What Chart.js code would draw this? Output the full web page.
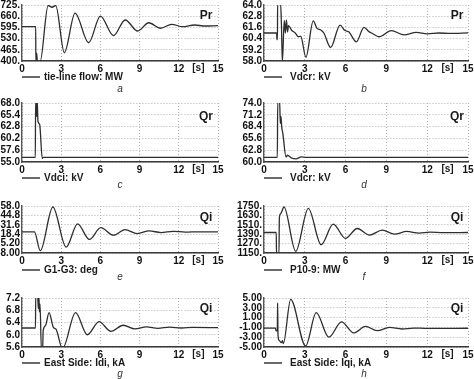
<!DOCTYPE html>
<html><head><meta charset="utf-8">
<script src="https://cdn.jsdelivr.net/npm/chart.js@4"></script>
<style>
html,body{margin:0;padding:0;width:474px;height:379px;overflow:hidden;background:#fff;font-family:"Liberation Sans",Arial,sans-serif;}
.cv{position:absolute;}
.t{position:absolute;white-space:nowrap;color:#1a1a1a;line-height:1;}
.lg{font-weight:bold;font-size:10px;transform:translateY(-50%);}
.ln{position:absolute;height:2px;background:#6a6a6a;}
.cap{font-style:italic;font-size:10px;color:#333;transform:translate(-50%,-50%);}
.tag{font-weight:bold;font-size:12px;transform:translate(-50%,-50%);}
.sec{font-weight:bold;font-size:10px;transform:translate(-50%,0);}
</style></head><body>
<script>
// ---------- data ----------
const xTickVals = [0, 3, 6, 9, 12, 15];
const xTickLabels = ['0', '3', '6', '9', '12', '15'];

// a: tie-line flow (MW)
const timeA = [0,1.05,1.06,1.12,1.18,1.25,1.38,2.0,2.3,2.58,3.24,4.06,5.1,6.0,7.0,7.9,8.85,9.7,10.6,11.45,12.3,13.2,14.0,15];
const valA  = [600,600,395,446,395,395,395,722,712,722,448,678,506,661,547,638,574,622,590,613,599,609,603,605];
const yTicksA = [400,465,530,595,660,725];
const yLabelsA = ['400.','465.','530.','595.','660.','725.'];

// b: Vdcr (kV), Pr
const timeB = [0,0.93,0.95,0.99,1.0,1.22,1.28,1.35,1.49,1.57,1.65,1.73,1.8,2.03,2.3,2.52,2.7,3.08,3.62,3.9,4.15,4.4,4.9,5.59,5.93,6.25,6.79,7.35,7.72,7.97,8.46,9.36,10.3,11.2,12.0,12.87,13.7,15];
const valB  = [61.0,61.0,60.3,60.3,64.2,64.2,62.0,57.9,62.35,61.0,62.4,61.1,61.8,61.3,61.0,60.6,60.65,58.4,62.3,61.5,61.35,61.0,59.45,61.85,61.3,61.1,60.05,61.6,61.15,60.95,60.6,61.25,60.8,61.07,60.9,61.0,60.95,61.02];
const yTicksB = [58,59.2,60.4,61.6,62.8,64];
const yLabelsB = ['58.0','59.2','60.4','61.6','62.8','64.0'];

// c: Vdci (kV), Qr
const timeC = [0,1.02,1.04,1.1,1.13,1.17,1.22,1.35,1.55,1.65,15];
const valC  = [56.0,56.0,68.3,68.3,65.0,68.3,64.0,63.3,55.8,56.0,56.0];
const yTicksC = [55,57.6,60.2,62.8,65.4,68];
const yLabelsC = ['55.0','57.6','60.2','62.8','65.4','68.0'];

// d: Vdcr (kV), Qr
const timeD = [0,0.98,1.01,1.15,1.2,1.25,1.3,1.38,1.62,1.72,2.0,2.35,2.75,3.1,15];
const valD  = [61.1,61.1,74.3,74.3,69.2,70.8,68.4,66.9,61.2,61.6,61.0,60.75,61.2,61.1,61.1];
const yTicksD = [60,62.8,65.6,68.4,71.2,74];
const yLabelsD = ['60.0','62.8','65.6','68.4','71.2','74.0'];

// e: G1-G3 (deg), Qi
const timeE = [0,0.95,1.4,2.36,3.38,4.25,5.16,6.03,7.0,7.88,8.82,9.74,10.65,11.57,12.5,13.5,15];
const valE  = [21.6,21.6,-4.8,56.6,0.2,33.0,11.1,27.5,17.0,24.8,19.3,23.0,20.7,22.5,21.3,21.8,21.6];
const yTicksE = [-8,5.2,18.4,31.6,44.8,58];
const yLabelsE = ['-8.00','5.20','18.4','31.6','44.8','58.0'];

// f: P10-9 (MW), Qi
const timeF = [0,0.9,0.92,1.1,1.13,1.22,1.47,2.33,3.26,4.2,5.09,5.99,6.85,7.76,8.69,9.6,10.5,11.4,12.2,13.2,15];
const valF  = [1412,1412,1140,1140,1600,1650,1737,1171,1720,1256,1518,1336,1463,1378,1442,1391,1425,1404,1416,1410,1412];
const yTicksF = [1150,1270,1390,1510,1630,1750];
const yLabelsF = ['1150.','1270.','1390.','1510.','1630.','1750.'];

// g: East Side Idi (kA), Qi
const timeG = [0,1.03,1.05,1.2,1.25,1.3,1.33,1.38,1.48,1.58,1.62,1.8,2.07,2.4,2.6,3.1,4.1,5.0,5.9,6.8,7.75,8.64,9.53,10.4,11.3,12.2,13.1,15];
const valG  = [6.22,6.22,7.25,7.25,6.85,7.25,6.75,7.0,5.55,5.55,6.13,6.3,6.72,6.24,6.18,5.55,6.72,6.0,6.43,6.11,6.31,6.19,6.26,6.21,6.25,6.22,6.24,6.23];
const yTicksG = [5.6,6.0,6.4,6.8,7.2];
const yLabelsG = ['5.6','6.0','6.4','6.8','7.2'];

// h: East Side Iqi (kA), Qi
const timeH = [0,0.85,0.88,0.98,1.0,1.03,1.1,1.2,1.29,1.36,1.42,1.96,3.06,3.84,4.77,5.7,6.6,7.46,8.32,9.22,10.15,11.0,12.0,15];
const valH  = [-1.15,-1.15,-1.7,-1.7,4.0,-2.5,-3.6,-3.9,-4.1,-3.7,-4.3,4.7,-4.8,2.0,-3.0,0.13,-2.13,-0.8,-1.67,-1.0,-1.33,-1.13,-1.2,-1.17];
const yTicksH = [-5,-3,-1,1,3,5];
const yLabelsH = ['-5.00','-3.00','-1.00','1.00','3.00','5.00'];

const legendTexts = ['tie-line flow: MW','Vdcr: kV','Vdci: kV','Vdcr: kV','G1-G3: deg','P10-9: MW','East Side: Idi, kA','East Side: Iqi, kA'];
const tagTexts = ['Pr','Pr','Qr','Qr','Qi','Qi','Qi','Qi'];
const captionTexts = ['a','b','c','d','e','f','g','h'];
const unitText = '[s]';

// ---------- layout ----------
const cols = [{l:22, r:218, cap:120}, {l:264, r:468, cap:364}];
const rows = [
  {t:4, b:61, lg:77, cap:88.5, tag:15},
  {t:102, b:162, lg:177.5, cap:184.5, tag:115.5},
  {t:205, b:253, lg:270, cap:277, tag:217},
  {t:297, b:347, lg:363, cap:373.5, tag:308}
];
const series = [
  [timeA,valA,yTicksA,yLabelsA],[timeB,valB,yTicksB,yLabelsB],
  [timeC,valC,yTicksC,yLabelsC],[timeD,valD,yTicksD,yLabelsD],
  [timeE,valE,yTicksE,yLabelsE],[timeF,valF,yTicksF,yLabelsF],
  [timeG,valG,yTicksG,yLabelsG],[timeH,valH,yTicksH,yLabelsH]
];

function addText(cls, txt, x, y){
  const d=document.createElement('div'); d.className='t '+cls; d.textContent=txt;
  d.style.left=x+'px'; d.style.top=y+'px'; document.body.appendChild(d); return d;
}

const tickFont = {family:'"Liberation Sans", Arial, sans-serif', size:10, weight:'bold'};
const padTop=7, padRight=10, yW=32, xH=14;

series.forEach((s,k)=>{
  const col=cols[k%2], row=rows[Math.floor(k/2)];
  const [tx,vy,yt,yl]=s;
  const w = yW + (col.r-col.l) + padRight;
  const h = padTop + (row.b-row.t) + xH;
  const c=document.createElement('canvas');
  c.className='cv'; c.width=w; c.height=h;
  c.style.left=(col.l-yW)+'px'; c.style.top=(row.t-padTop)+'px';
  c.style.width=w+'px'; c.style.height=h+'px';
  document.body.appendChild(c);
  const pts=tx.map((x,i)=>({x:x,y:vy[i]}));
  new Chart(c,{
    type:'line',
    data:{datasets:[{data:pts,borderColor:'#2e2e2e',borderWidth:1.3,pointRadius:0,cubicInterpolationMode:'monotone',fill:false}]},
    options:{
      responsive:false, animation:false, events:[],
      layout:{padding:{top:padTop,right:padRight,left:0,bottom:0}},
      plugins:{legend:{display:false},tooltip:{enabled:false}},
      scales:{
        x:{type:'linear',min:0,max:15,
          afterBuildTicks:sc=>{sc.ticks=xTickVals.map(v=>({value:v}));},
          afterFit:sc=>{sc.height=xH;},
          ticks:{callback:(v,i)=>xTickLabels[i],font:tickFont,color:'#111',padding:2,maxRotation:0,autoSkip:false},
          grid:{color:'#b0b0b0',lineWidth:1,drawTicks:false},
          border:{display:true,color:'#3a3a3a',width:1.6,dash:[1,2]}
        },
        y:{type:'linear',min:yt[0],max:yt[yt.length-1],
          afterBuildTicks:sc=>{sc.ticks=yt.map(v=>({value:v}));},
          afterFit:sc=>{sc.width=yW;},
          ticks:{callback:(v,i)=>yl[i],font:tickFont,color:'#111',padding:2,autoSkip:false},
          grid:{color:'#b0b0b0',lineWidth:1,drawTicks:false},
          border:{display:true,color:'#555',width:1.4,dash:[1,2]}
        }
      }
    }
  });
  // legend
  const ln=document.createElement('div'); ln.className='ln';
  ln.style.left=col.l+'px'; ln.style.top=(row.lg-1)+'px'; ln.style.width='18px';
  document.body.appendChild(ln);
  addText('lg', legendTexts[k], col.l + (k%2? 26:22), row.lg);
  addText('cap', captionTexts[k], col.cap, row.cap);
  addText('tag', tagTexts[k], col.r - (k%2? 11:12), row.tag);
  const xs = col.l + 13.5*(col.r-col.l)/15;
  addText('sec', unitText, xs, row.b+2);
});
</script>
</body></html>
